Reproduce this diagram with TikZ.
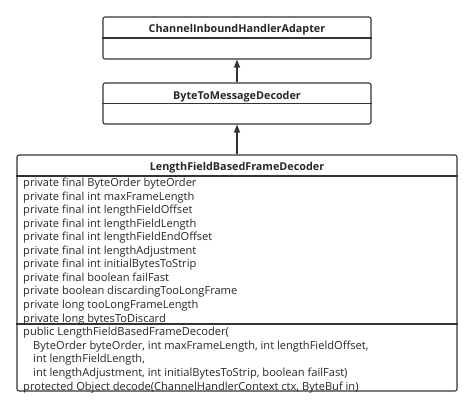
\documentclass[tikz,border=0pt]{standalone}
\usepackage{fontspec}
\setmainfont{Open Sans}
\usetikzlibrary{arrows.meta}

\begin{document}
\begin{tikzpicture}[x=1pt, y=-1pt]
  \tikzset{
    class_box/.style={draw=black!80, line width=1.1pt, rounded corners=2pt},
    class_line/.style={draw=black!80, line width=1.1pt},
    class_name/.style={font=\bfseries\fontsize{10.8}{12}\selectfont, anchor=base, inner sep=0pt, text=black!85},
    member/.style={font=\fontsize{11.1}{12}\selectfont, anchor=base west, inner sep=0pt, text=black!85},
    extends/.style={-{Triangle[width=6pt,length=8pt]}, line width=1.1pt, draw=black!80}
  }
  \useasboundingbox (0,0) rectangle (474,409);

  % Clase superior
  \node[class_box, minimum width=268pt, minimum height=42pt] (cia) at (237,38) {};
  \draw[class_line] (cia.west) -- (cia.east);
  \node[class_name] (cia_name) at (237,32.5) {ChannelInboundHandlerAdapter};

  % Clase intermedia
  \node[class_box, minimum width=268pt, minimum height=41pt] (btmd) at (237,103.5) {};
  \draw[class_line] (btmd.west) -- (btmd.east);
  \node[class_name] (btmd_name) at (237,99.5) {ByteToMessageDecoder};

  % Clase inferior (nombre, atributos, metodos)
  \node[class_box, minimum width=440pt, minimum height=236pt] (lfbfd) at (237,273) {};
  \draw[class_line] (lfbfd.west |- 0,176) -- (lfbfd.east |- 0,176);
  \draw[class_line] (lfbfd.west |- 0,324) -- (lfbfd.east |- 0,324);
  \node[class_name] (lfbfd_name) at (237,170.5) {LengthFieldBasedFrameDecoder};

  % Atributos
  \foreach \txt [count=\i] in {private final ByteOrder byteOrder, private final int maxFrameLength,
      private final int lengthFieldOffset, private final int lengthFieldLength,
      private final int lengthFieldEndOffset, private final int lengthAdjustment,
      private final int initialBytesToStrip, private final boolean failFast,
      private boolean discardingTooLongFrame, private long tooLongFrameLength,
      private long bytesToDiscard}
    \node[member] (attr\i) at (23,{173+13.55*\i}) {\txt};

  % Metodos
  \foreach \xx/\txt [count=\i] in {23/{public LengthFieldBasedFrameDecoder(},
      33/{ByteOrder byteOrder, int maxFrameLength, int lengthFieldOffset,},
      33/{int lengthFieldLength,},
      33/{int lengthAdjustment, int initialBytesToStrip, boolean failFast)},
      23/{protected Object decode(ChannelHandlerContext ctx, ByteBuf in)}}
    \node[member] (meth\i) at (\xx,{321.8+13.7*\i}) {\txt};

  % Herencia
  \draw[extends] (btmd.north) -- (cia.south);
  \draw[extends] (lfbfd.north) -- (btmd.south);
\end{tikzpicture}
\end{document}
